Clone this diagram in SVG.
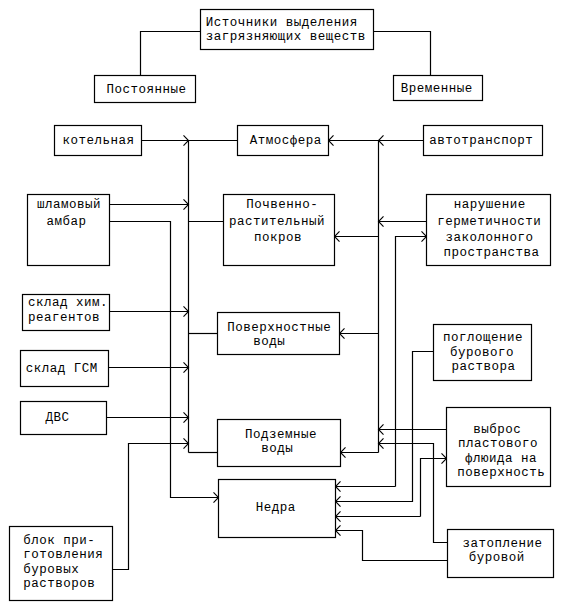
<svg xmlns="http://www.w3.org/2000/svg" width="561" height="607" viewBox="0 0 561 607">
<style>
.n rect{fill:#fff;stroke:#000;stroke-width:1.2}
text{font-family:"Liberation Mono","DejaVu Sans Mono",monospace;font-size:12.5px;letter-spacing:0.5px;fill:#000}
.c path{fill:none;stroke:#000;stroke-width:1.2}
.a{marker-end:url(#ar)}
</style>
<defs>
<marker id="ar" markerUnits="userSpaceOnUse" markerWidth="12" markerHeight="12" refX="6" refY="6" orient="auto" overflow="visible">
<path d="M1,0.8 L6,6 L1,11.2" fill="none" stroke="#000" stroke-width="1.1"/>
</marker>
</defs>
<rect width="561" height="607" fill="#fff"/>
<g class="c" id="connectors">
<path d="M200.5,31.5 H140.5 V75.5"/>
<path d="M373.5,31.5 H430.5 V75.5"/>
<path d="M188.5,140.5 V452.5"/>
<path class="a" d="M141.5,140.5 H188.5"/>
<path d="M188.5,140.5 H237.5"/>
<path class="a" d="M109.5,204.5 H188.5"/>
<path d="M188.5,221.5 H223.5"/>
<path class="a" d="M109.5,221.5 H170.5 V497.5 H218.5"/>
<path class="a" d="M109.5,311.5 H188.5"/>
<path d="M188.5,333.5 H217.5"/>
<path class="a" d="M108.5,367.5 H188.5"/>
<path class="a" d="M106.5,417.5 H188.5"/>
<path class="a" d="M112.5,569.5 H128.5 V443.5 H188.5"/>
<path d="M188.5,452.5 H217.5"/>
<path d="M378.5,140.5 V452.5"/>
<path class="a" d="M423.5,140.5 H378.5"/>
<path class="a" d="M378.5,140.5 H328.5"/>
<path class="a" d="M426.5,221.5 H378.5"/>
<path class="a" d="M378.5,236.5 H334.5"/>
<path class="a" d="M395.5,486.5 V236.5 H426.5"/>
<path class="a" d="M395.5,486.5 H335.5"/>
<path class="a" d="M378.5,333.5 H339.5"/>
<path class="a" d="M433.5,351.5 H412.5 V501.5 H335.5"/>
<path class="a" d="M446.5,429.5 H378.5"/>
<path class="a" d="M447.5,542.5 H433.5 V443.5 H378.5"/>
<path class="a" d="M420.5,516.5 V458.5 H446.5"/>
<path class="a" d="M420.5,516.5 H335.5"/>
<path class="a" d="M447.5,560.5 H362.5 V530.5 H335.5"/>
<path class="a" d="M378.5,452.5 H340.5"/>
</g>
<g class="n" id="n-sources"><rect x="200.5" y="9.5" width="173" height="40"/><text x="205.7" y="25.7">Источники выделения</text><text x="205.7" y="39.7">загрязняющих веществ</text></g>
<g class="n" id="n-permanent"><rect x="94.5" y="75.5" width="101" height="27"/><text x="106.6" y="93.3">Постоянные</text></g>
<g class="n" id="n-temporary"><rect x="393.5" y="75.5" width="89" height="25"/><text x="400.7" y="92.3">Временные</text></g>
<g class="n" id="n-boiler"><rect x="54.5" y="125.5" width="87" height="30"/><text x="62.6" y="144">котельная</text></g>
<g class="n" id="n-atmosphere"><rect x="237.5" y="125.5" width="91" height="30"/><text x="249.7" y="144">Атмосфера</text></g>
<g class="n" id="n-transport"><rect x="423.5" y="125.5" width="119" height="30"/><text x="429.3" y="144">автотранспорт</text></g>
<g class="n" id="n-sludge"><rect x="27.5" y="194.5" width="82" height="71"/><text x="36.9" y="208.3">шламовый</text><text x="46.5" y="225.3">амбар</text></g>
<g class="n" id="n-soil"><rect x="223.5" y="194.5" width="111" height="71"/><text x="246.2" y="208.3">Почвенно-</text><text x="229" y="225">растительный</text><text x="254" y="240.7">покров</text></g>
<g class="n" id="n-leak"><rect x="426.5" y="194.5" width="124" height="71"/><text x="453.7" y="208.3">нарушение</text><text x="437.2" y="225">герметичности</text><text x="445.4" y="240.7">заколонного</text><text x="443.6" y="256.3">пространства</text></g>
<g class="n" id="n-chem"><rect x="22.5" y="294.5" width="87" height="36"/><text x="27.9" y="305.7">склад хим.</text><text x="27.9" y="320.7">реагентов</text></g>
<g class="n" id="n-surface"><rect x="217.5" y="312.5" width="122" height="42"/><text x="227.2" y="330.7">Поверхностные</text><text x="253.3" y="344.7">воды</text></g>
<g class="n" id="n-fuel"><rect x="20.5" y="350.5" width="88" height="36"/><text x="25.8" y="371.7">склад ГСМ</text></g>
<g class="n" id="n-loss"><rect x="433.5" y="324.5" width="98" height="56"/><text x="442.9" y="340.7">поглощение</text><text x="450.1" y="355.7">бурового</text><text x="451.5" y="369.7">раствора</text></g>
<g class="n" id="n-engine"><rect x="20.5" y="401.5" width="86" height="33"/><text x="45.4" y="421.3">ДВС</text></g>
<g class="n" id="n-ground"><rect x="217.5" y="419.5" width="123" height="47"/><text x="245.1" y="438">Подземные</text><text x="261.2" y="452.3">воды</text></g>
<g class="n" id="n-blowout"><rect x="446.5" y="407.5" width="104" height="79"/><text x="473.3" y="433.3">выброс</text><text x="458" y="447.3">пластового</text><text x="465.1" y="462.3">флюида на</text><text x="457.2" y="476.3">поверхность</text></g>
<g class="n" id="n-subsoil"><rect x="218.5" y="479.5" width="117" height="58"/><text x="255.8" y="511.3">Недра</text></g>
<g class="n" id="n-flood"><rect x="447.5" y="529.5" width="106" height="48"/><text x="462.6" y="547.3">затопление</text><text x="468.7" y="560.7">буровой</text></g>
<g class="n" id="n-mud"><rect x="9.5" y="526.5" width="103" height="74"/><text x="23.3" y="544.3">блок при-</text><text x="23.3" y="558.3">готовления</text><text x="23.3" y="572.7">буровых</text><text x="23.3" y="587">растворов</text></g>
</svg>
